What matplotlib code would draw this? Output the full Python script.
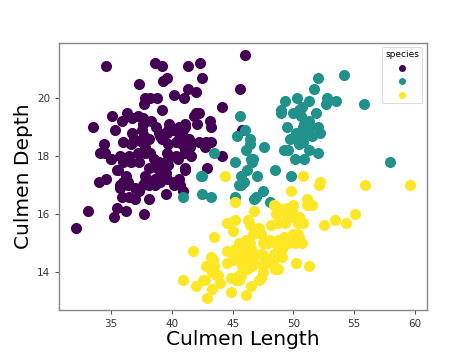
import matplotlib
matplotlib.use("Agg")
import matplotlib.pyplot as plt
from matplotlib.lines import Line2D

adelie_len = [39.1, 39.5, 40.3, 36.7, 39.3, 38.9, 39.2, 34.1, 42.0, 37.8, 37.8, 41.1, 38.6, 34.6, 36.6, 38.7, 42.5, 34.4, 46.0,
              37.8, 37.7, 35.9, 38.2, 38.8, 35.3, 40.6, 40.5, 37.9, 40.5,
              39.5, 37.2, 39.5, 40.9, 36.4, 39.2, 38.8, 42.2, 37.6, 39.8, 36.5, 40.8, 36.0, 44.1, 37.0, 39.6, 41.1, 37.5, 36.0, 42.3,
              39.6, 40.1, 35.0, 42.0, 34.5, 41.4, 39.0, 40.6, 36.5, 37.6, 35.7, 41.3, 37.6, 41.1, 36.4, 41.6, 35.5, 41.1,
              35.9, 41.8, 33.5, 39.7, 39.6, 45.8, 35.5, 42.8, 40.9, 37.2, 36.2, 42.1, 34.6, 42.9, 36.7, 35.1,
              37.3, 41.3, 36.3, 36.9, 38.3, 38.9, 35.7, 41.1, 34.0, 39.6, 36.2, 40.8, 38.1, 40.3, 33.1, 43.2,
              35.0, 41.0, 37.7, 37.8, 37.9, 39.7, 38.6, 38.2, 38.1, 43.2, 38.1, 45.6, 39.7, 42.2, 39.6, 42.7,
              38.6, 37.3, 35.7, 41.1, 36.2, 37.7, 40.2, 41.4, 35.2, 40.6, 38.8, 41.5, 39.0, 44.1, 38.5, 43.1,
              36.8, 37.5, 38.1, 41.1, 35.6, 40.2, 37.0, 39.7, 40.2, 40.6, 32.1, 40.7, 37.3, 39.0, 39.2, 36.6, 36.0, 37.8, 36.0, 41.5]
adelie_dep = [18.7, 17.4, 18.0, 19.3, 20.6, 17.8, 19.6, 18.1, 20.2, 17.1, 17.3, 17.6, 21.2, 21.1, 17.8, 19.0, 20.7, 18.4, 21.5,
              18.3, 18.7, 19.2, 18.1, 17.2, 18.9, 18.6, 17.9, 18.6, 18.9,
              16.7, 18.1, 17.8, 18.9, 17.0, 21.1, 20.0, 18.5, 19.3, 19.1, 18.0, 18.4, 18.5, 19.7, 16.9, 18.8, 19.0, 18.9, 17.9, 21.2,
              17.7, 18.9, 17.9, 19.5, 18.1, 18.6, 17.5, 18.8, 16.6, 19.1, 16.9, 21.1, 17.0, 18.2, 17.1, 18.0, 16.2, 19.1,
              16.6, 19.4, 19.0, 18.4, 17.2, 18.9, 17.5, 18.5, 16.8, 19.4, 16.1, 19.1, 17.2, 17.6, 18.8, 19.4,
              17.8, 20.3, 19.5, 18.6, 19.2, 18.8, 18.0, 18.1, 17.1, 18.1, 17.3, 18.9, 18.6, 18.5, 16.1, 18.5,
              17.9, 20.0, 16.0, 20.0, 18.6, 18.9, 17.2, 20.0, 17.0, 19.0, 16.5, 20.3, 17.7, 19.5, 20.7, 18.3,
              17.0, 20.5, 17.0, 18.6, 17.2, 19.8, 17.0, 18.5, 15.9, 19.0, 17.6, 18.3, 17.1, 18.0, 17.9, 19.2,
              18.5, 18.5, 17.6, 17.5, 17.5, 20.1, 16.5, 17.9, 17.1, 17.2, 15.5, 17.0, 16.8, 18.7, 18.6, 18.4, 17.8, 18.1, 17.1, 18.5]

chinstrap_len = [46.5, 50.0, 51.3, 45.4, 52.7, 45.2, 46.1, 51.3, 46.0, 51.3, 46.6, 51.7, 47.0, 52.0, 45.9, 50.5, 50.3, 58.0,
                 46.4, 49.2, 42.4, 48.5, 43.2, 50.6, 46.7, 52.0, 50.5, 49.5, 46.4, 52.8, 40.9, 54.2, 42.5, 51.0,
                 49.7, 47.5, 47.6, 52.0, 46.9, 53.5, 49.0, 46.2, 50.9, 45.5, 50.9, 50.8, 50.1, 49.0, 51.5, 49.8,
                 48.1, 51.4, 45.7, 50.7, 42.5, 52.2, 45.2, 49.3, 50.2, 45.6, 51.9, 46.8, 45.7, 55.8, 43.5, 49.6, 50.8, 50.2]
chinstrap_dep = [17.9, 19.5, 19.2, 18.7, 19.8, 17.8, 18.2, 18.2, 18.9, 19.9, 17.8, 20.3, 17.3, 18.1, 17.1, 19.6, 20.0, 17.8,
                 18.6, 18.2, 17.3, 17.5, 16.6, 19.4, 17.9, 19.0, 18.4, 19.0, 18.4, 20.0, 16.6, 20.8, 16.7, 18.8,
                 18.6, 16.8, 18.3, 20.7, 16.6, 19.9, 19.5, 17.5, 19.1, 17.0, 17.9, 18.5, 17.9, 19.6, 18.7, 17.3,
                 16.4, 19.0, 17.3, 19.7, 17.3, 18.8, 16.6, 19.9, 18.8, 19.4, 19.5, 16.5, 17.0, 19.8, 18.1, 18.2, 19.0, 18.7]

gentoo_len = [46.1, 50.0, 48.7, 50.0, 47.6, 46.5, 45.4, 46.7, 43.3, 46.8, 40.9, 49.0, 45.5, 48.4, 45.8, 49.3, 42.0, 49.2,
              46.2, 48.7, 50.2, 45.1, 46.5, 46.3, 42.9, 46.1, 44.5, 47.8, 48.2, 50.0, 47.3, 42.8, 45.1, 59.6,
              49.1, 48.4, 42.6, 44.4, 44.0, 48.7, 42.7, 49.6, 45.3, 49.6, 50.5, 43.6, 45.5, 50.5, 44.9, 45.2,
              46.6, 48.5, 45.1, 50.1, 46.5, 45.0, 43.8, 45.5, 43.2, 50.4, 45.3, 46.2, 45.7, 54.3, 45.8, 49.8,
              46.2, 49.5, 43.5, 50.7, 47.7, 46.4, 48.2, 46.5, 46.4, 48.6, 47.5, 51.1, 45.2, 45.2, 49.1, 52.5,
              47.4, 50.0, 44.9, 50.8, 43.4, 51.3, 47.5, 52.1, 47.5, 52.2, 45.5, 49.5, 44.5, 50.8, 49.4, 46.9,
              48.4, 51.1, 48.5, 55.9, 47.2, 49.1, 47.3, 46.8, 41.7, 53.4, 43.3, 48.1, 50.5, 49.8, 43.5, 51.5,
              46.2, 55.1, 44.5, 48.8, 47.2, 46.8, 50.4, 45.2, 49.9]
gentoo_dep = [13.2, 16.3, 14.1, 15.2, 14.5, 13.5, 14.6, 15.3, 13.4, 15.4, 13.7, 16.1, 13.7, 14.6, 14.6, 15.7, 13.5, 15.2,
              14.5, 15.1, 14.3, 14.5, 14.5, 15.8, 13.1, 15.1, 14.3, 15.0, 14.3, 15.3, 15.3, 14.2, 14.5, 17.0,
              14.8, 16.3, 13.7, 17.3, 13.6, 15.7, 13.7, 16.0, 13.7, 15.0, 15.9, 13.9, 13.9, 15.9, 13.3, 15.8,
              14.2, 14.1, 14.4, 15.0, 14.4, 15.4, 13.9, 15.0, 14.5, 15.3, 13.8, 14.9, 13.9, 15.7, 14.2, 16.8,
              14.4, 16.2, 14.2, 15.0, 15.0, 15.6, 15.6, 14.8, 15.0, 16.0, 14.2, 16.3, 13.8, 16.4, 14.5, 15.6,
              14.6, 15.9, 13.8, 17.3, 14.4, 14.2, 14.0, 17.0, 15.0, 17.1, 14.5, 16.1, 14.7, 15.7, 15.8, 14.6,
              14.4, 16.5, 15.0, 17.0, 15.5, 15.0, 13.8, 16.1, 14.7, 15.8, 14.0, 15.1, 15.2, 15.9, 15.2, 16.3,
              14.1, 16.0, 15.7, 16.2, 13.7, 14.3, 15.7, 14.8, 16.1]

colors = ["#440154", "#21918c", "#fde725"]

fig = plt.figure(figsize=(4.74, 3.55), dpi=100)
ax = fig.add_axes([0.125, 0.127, 0.775, 0.753])

series = [(adelie_len, adelie_dep), (chinstrap_len, chinstrap_dep), (gentoo_len, gentoo_dep)]
for (xs, ys), c in zip(series, colors):
    ax.scatter(xs, ys, s=64, color=c, linewidths=0)

ax.set_xlabel("Culmen Length", fontsize=14.5, labelpad=1)
ax.set_ylabel("Culmen Depth", fontsize=14.5, labelpad=3)
ax.set_xticks([35, 40, 45, 50, 55, 60])
ax.set_yticks([14, 16, 18, 20])
ax.tick_params(labelsize=7.5, colors="#333333", length=3, width=0.6)
for sp in ax.spines.values():
    sp.set_color("#888888")
    sp.set_linewidth(1.0)

handles = [Line2D([0], [0], marker="o", linestyle="", color=c, markersize=4) for c in colors]
leg = ax.legend(handles, ["", "", ""], title="species", loc="upper right",
                fontsize=6, title_fontsize=6.5, handletextpad=0.0, handlelength=1.2,
                borderpad=0.4, labelspacing=0.55)
leg.get_frame().set_linewidth(0.6)

fig.savefig("out.png", dpi=100)
